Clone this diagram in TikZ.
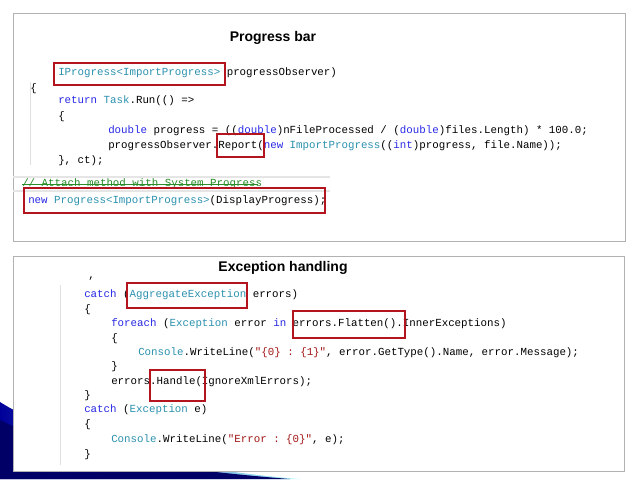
\documentclass[tikz,border=0pt]{standalone}
\usepackage{fontspec}
\setmainfont{Liberation Sans}
\setmonofont{Liberation Mono}
\definecolor{kw}{RGB}{40,40,230}
\definecolor{ty}{RGB}{43,145,175}
\definecolor{st}{RGB}{163,21,21}
\definecolor{cmtgreen}{RGB}{40,140,40}
\definecolor{bx}{RGB}{180,20,30}
\newcommand{\K}[1]{\textcolor{kw}{#1}}
\newcommand{\T}[1]{\textcolor{ty}{#1}}
\newcommand{\Sx}[1]{\textcolor{st}{#1}}
\begin{document}
\begin{tikzpicture}[x=0.75pt,y=-0.75pt,
  code/.style={anchor=west,inner sep=0pt,font=\ttfamily\fontsize{8.1}{10}\selectfont},
  ttl/.style={font=\bfseries\fontsize{10.5}{12}\selectfont},
  panel/.style={draw=gray!60,line width=0.6pt},
  hl/.style={draw=bx,line width=1.6pt}]
\useasboundingbox (0,0) rectangle (638,479);
\fill[white] (0,0) rectangle (638,479);
% swoosh
\shade[left color=blue!60!black, right color=cyan!30!white] (0,402) .. controls (60,440) and (180,470) .. (300,479) -- (0,479) -- cycle;
\fill[blue!40!black] (0,420) .. controls (60,450) and (150,468) .. (290,479) -- (0,479) -- cycle;
\draw[panel,fill=white] (13,13) rectangle (625,241);
\draw[panel,fill=white] (13,256) rectangle (624,471);
% top
\node[ttl] (t1) at (273,38) {Progress bar};
\draw[gray!25,line width=0.5pt] (30,82) -- (30,165);
\node[code] (a1) at (58,73) {\T{IProgress<ImportProgress>} progressObserver)};
\node[code] (a2) at (30,89) {\{};
\node[code] (a3) at (58,101) {\K{return} \T{Task}.Run(() =>};
\node[code] (a4) at (58,117) {\{};
\node[code] (a5) at (108,131) {\K{double} progress = ((\K{double})nFileProcessed / (\K{double})files.Length) * 100.0;};
\node[code] (a6) at (108,146) {progressObserver.Report(\K{new} \T{ImportProgress}((\K{int})progress, file.Name));};
\node[code] (a7) at (58,161) {\}, ct);};
\draw[gray!20,line width=0.8pt] (13,177) -- (330,177);
\draw[gray!20,line width=0.8pt] (13,191) -- (330,191);
\node[code,text=cmtgreen] (a8) at (22,184) {// Attach method with System Progress};
\draw[cmtgreen,line width=0.4pt] (22,184) -- (258,184);
\node[code] (a9) at (28,201) {\K{new} \T{Progress<ImportProgress>}(DisplayProgress);};
\draw[hl] (54,63) rectangle (225,85);
\draw[hl] (217,134) rectangle (264,157);
\draw[hl] (24,188) rectangle (325,213);
% bottom
\node[ttl] (t2) at (283,268) {Exception handling};
\draw[gray!25,line width=0.5pt] (60,285) -- (60,465);
\node[code] (b0) at (88,279) {,};
\node[code] (b1) at (84,295) {\K{catch} (\T{AggregateException} errors)};
\node[code] (b2) at (84,310) {\{};
\node[code] (b3) at (111,324) {\K{foreach} (\T{Exception} error \K{in} errors.Flatten().InnerExceptions)};
\node[code] (b4) at (111,339) {\{};
\node[code] (b5) at (138,353) {\T{Console}.WriteLine(\Sx{"\{0\} : \{1\}"}, error.GetType().Name, error.Message);};
\node[code] (b6) at (111,367) {\}};
\node[code] (b7) at (111,382) {errors.Handle(IgnoreXmlErrors);};
\node[code] (b8) at (84,396) {\}};
\node[code] (b9) at (84,410) {\K{catch} (\T{Exception} e)};
\node[code] (b10) at (84,425) {\{};
\node[code] (b11) at (111,440) {\T{Console}.WriteLine(\Sx{"Error : \{0\}"}, e);};
\node[code] (b12) at (84,455) {\}};
\draw[hl] (127,283) rectangle (247,308);
\draw[hl] (293,311) rectangle (405,338);
\draw[hl] (150,370) rectangle (205,401);
\end{tikzpicture}
\end{document}
